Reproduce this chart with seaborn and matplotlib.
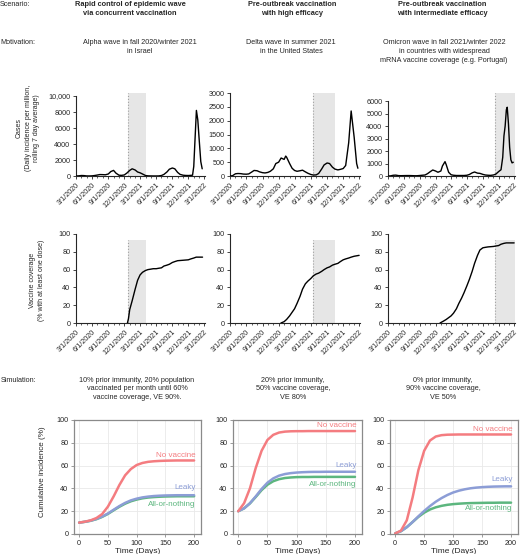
import pandas as pd
import seaborn as sns
import matplotlib.pyplot as plt
import matplotlib.dates as mdates

# ---- Cases: daily incidence per million, rolling 7 day average ----
israel_case_dates = ['2020-03-01', '2020-03-15', '2020-04-01', '2020-04-15', '2020-05-01', '2020-05-15',
                     '2020-06-01', '2020-06-15', '2020-07-01', '2020-07-15', '2020-08-01', '2020-08-15',
                     '2020-09-01', '2020-09-15', '2020-10-01', '2020-10-15', '2020-11-01', '2020-11-15',
                     '2020-12-01', '2020-12-15', '2021-01-01', '2021-01-15', '2021-02-01', '2021-02-15',
                     '2021-03-01', '2021-03-15', '2021-04-01', '2021-04-15', '2021-05-01', '2021-05-15',
                     '2021-06-01', '2021-06-15', '2021-07-01', '2021-07-15', '2021-08-01', '2021-08-15',
                     '2021-09-01', '2021-09-15', '2021-10-01', '2021-10-15', '2021-11-01', '2021-11-15',
                     '2021-12-01', '2021-12-15', '2021-12-25', '2022-01-01', '2022-01-08', '2022-01-16',
                     '2022-01-24', '2022-02-01', '2022-02-10', '2022-02-18']
israel_cases = [0, 20, 60, 50, 10, 5,
                20, 60, 120, 180, 170, 150,
                250, 550, 700, 350, 100, 80,
                130, 350, 700, 900, 750, 500,
                400, 250, 60, 20, 10, 5,
                5, 10, 60, 200, 500, 850,
                1000, 900, 450, 200, 100, 70,
                60, 80, 100, 1200, 4500, 8200,
                7000, 4500, 1800, 900]

us_case_dates = ['2020-03-01', '2020-03-15', '2020-04-01', '2020-04-15', '2020-05-01', '2020-05-15',
                 '2020-06-01', '2020-06-15', '2020-07-01', '2020-07-15', '2020-08-01', '2020-08-15',
                 '2020-09-01', '2020-09-15', '2020-10-01', '2020-10-15', '2020-11-01', '2020-11-15',
                 '2020-12-01', '2020-12-15', '2021-01-01', '2021-01-10', '2021-01-15', '2021-02-01',
                 '2021-02-15', '2021-03-01', '2021-03-15', '2021-04-01', '2021-04-15', '2021-05-01',
                 '2021-05-15', '2021-06-01', '2021-06-15', '2021-07-01', '2021-07-15', '2021-08-01',
                 '2021-08-15', '2021-09-01', '2021-09-15', '2021-10-01', '2021-10-15', '2021-11-01',
                 '2021-11-15', '2021-12-01', '2021-12-15', '2022-01-01', '2022-01-15', '2022-02-01',
                 '2022-02-15', '2022-02-22']
us_cases = [0, 10, 80, 90, 85, 70,
            65, 75, 140, 200, 190, 150,
            120, 110, 130, 170, 260, 450,
            500, 650, 600, 720, 680, 450,
            280, 200, 170, 190, 210, 150,
            100, 55, 35, 40, 90, 250,
            400, 470, 450, 320, 250, 220,
            240, 270, 380, 1200, 2350, 1400,
            450, 280]

portugal_case_dates = ['2020-03-01', '2020-03-15', '2020-04-01', '2020-04-15', '2020-05-01', '2020-05-15',
                       '2020-06-01', '2020-06-15', '2020-07-01', '2020-07-15', '2020-08-01', '2020-08-15',
                       '2020-09-01', '2020-09-15', '2020-10-01', '2020-10-15', '2020-11-01', '2020-11-15',
                       '2020-12-01', '2020-12-15', '2021-01-01', '2021-01-10', '2021-01-25', '2021-02-01',
                       '2021-02-15', '2021-03-01', '2021-03-15', '2021-04-01', '2021-04-15', '2021-05-01',
                       '2021-05-15', '2021-06-01', '2021-06-15', '2021-07-01', '2021-07-15', '2021-08-01',
                       '2021-08-15', '2021-09-01', '2021-09-15', '2021-10-01', '2021-10-15', '2021-11-01',
                       '2021-11-15', '2021-12-01', '2021-12-15', '2021-12-25', '2022-01-01', '2022-01-08',
                       '2022-01-15', '2022-01-20', '2022-01-27', '2022-02-03', '2022-02-10', '2022-02-17',
                       '2022-02-24']
portugal_cases = [0, 10, 60, 70, 30, 25,
                  30, 35, 35, 30, 20, 20,
                  40, 60, 80, 180, 350, 480,
                  400, 300, 400, 800, 1150, 900,
                  300, 100, 60, 40, 40, 40,
                  40, 60, 120, 250, 320, 230,
                  210, 130, 80, 60, 50, 80,
                  150, 350, 500, 1500, 3200, 4000,
                  5300, 5500, 4200, 2300, 1300, 1050,
                  1100]

# ---- Vaccine coverage: % with at least one dose ----
israel_vax_dates = ['2020-12-19', '2020-12-25', '2021-01-01', '2021-01-15', '2021-02-01', '2021-02-15',
                    '2021-03-01', '2021-03-15', '2021-04-01', '2021-04-15', '2021-05-01', '2021-05-15',
                    '2021-06-01', '2021-06-15', '2021-07-01', '2021-07-15', '2021-08-01', '2021-08-15',
                    '2021-09-01', '2021-09-15', '2021-10-01', '2021-11-01', '2021-12-01', '2021-12-15',
                    '2022-01-01', '2022-01-15', '2022-02-01', '2022-02-20']
israel_vax = [0, 5, 15, 25, 38, 48,
              54, 57, 59, 60, 60.5, 61,
              61, 61.5, 62, 64, 65, 66,
              68, 69, 70, 70.5, 71, 72,
              73, 74, 74, 74]

us_vax_dates = ['2020-12-14', '2021-01-01', '2021-01-15', '2021-02-01', '2021-02-15', '2021-03-01',
                '2021-03-15', '2021-04-01', '2021-04-15', '2021-05-01', '2021-05-15', '2021-06-01',
                '2021-06-15', '2021-07-01', '2021-07-15', '2021-08-01', '2021-08-15', '2021-09-01',
                '2021-09-15', '2021-10-01', '2021-10-15', '2021-11-01', '2021-11-15', '2021-12-01',
                '2021-12-15', '2022-01-01', '2022-01-15', '2022-02-01', '2022-02-15', '2022-03-01']
us_vax = [0, 1.5, 4, 8, 12, 16,
          22, 30, 38, 44, 47, 50,
          53, 55, 56, 58, 60, 62,
          63, 65, 66, 67, 69, 71,
          72, 73, 74, 75, 75.5, 76]

portugal_vax_dates = ['2020-12-27', '2021-01-15', '2021-02-01', '2021-02-15', '2021-03-01', '2021-03-15',
                      '2021-04-01', '2021-04-15', '2021-05-01', '2021-05-15', '2021-06-01', '2021-06-15',
                      '2021-07-01', '2021-07-15', '2021-08-01', '2021-08-15', '2021-09-01', '2021-09-15',
                      '2021-10-01', '2021-11-01', '2021-11-15', '2021-12-01', '2021-12-15', '2022-01-01',
                      '2022-01-15', '2022-03-01']
portugal_vax = [0, 2, 4, 6, 8, 11,
                16, 22, 28, 34, 42, 49,
                58, 67, 76, 82, 84.5, 85,
                85.5, 86, 86.5, 87, 88.5, 89.5,
                90, 90]

# ---- Simulations: cumulative incidence (%) ----
sim_days = [0, 10, 20, 30, 40, 50, 60, 70, 80, 90, 100, 110, 120, 130, 140, 150, 160, 170, 180, 190, 200]

sim1_none = [10, 10.8, 12, 14, 17.5, 24, 33, 43, 51.5, 57, 60.5, 62.3, 63.3, 63.8, 64.1, 64.3, 64.4, 64.5, 64.5, 64.5, 64.5]
sim1_leaky = [10, 10.7, 11.7, 13.2, 15.3, 18, 21.3, 24.5, 27.3, 29.5, 31, 32.1, 32.8, 33.3, 33.6, 33.8, 33.9, 34, 34, 34, 34]
sim1_aon = [10, 10.7, 11.6, 13, 15, 17.6, 20.8, 23.9, 26.6, 28.7, 30.2, 31.3, 32, 32.4, 32.7, 32.9, 33, 33.1, 33.1, 33.1, 33.1]

sim2_none = [20, 27, 40, 58, 73, 82.5, 87, 89, 89.8, 90.1, 90.2, 90.2, 90.3, 90.3, 90.3, 90.3, 90.3, 90.3, 90.3, 90.3, 90.3]
sim2_leaky = [20, 22.5, 27, 33, 39.5, 45, 48.8, 51.2, 52.6, 53.4, 53.9, 54.2, 54.4, 54.5, 54.5, 54.6, 54.6, 54.6, 54.6, 54.6, 54.6]
sim2_aon = [20, 22.5, 26.8, 32.5, 38.5, 43.2, 46.3, 48.1, 49.1, 49.6, 49.9, 50, 50, 50.1, 50.1, 50.1, 50.1, 50.1, 50.1, 50.1, 50.1]

sim3_none = [0.5, 3, 12, 32, 56, 73, 82, 85.5, 86.7, 87.1, 87.2, 87.3, 87.3, 87.3, 87.3, 87.3, 87.3, 87.3, 87.3, 87.3, 87.3]
sim3_leaky = [0.5, 2.5, 6, 10.5, 15.5, 20.2, 24.5, 28.3, 31.5, 34.2, 36.4, 38, 39.2, 40.1, 40.7, 41.1, 41.4, 41.6, 41.7, 41.8, 41.8]
sim3_aon = [0.5, 2.5, 6, 10.5, 15, 18.7, 21.5, 23.4, 24.7, 25.6, 26.2, 26.6, 26.9, 27.1, 27.2, 27.3, 27.4, 27.4, 27.5, 27.5, 27.5]

# Axis ticks / labels
date_ticks = ['2020-03-01', '2020-06-01', '2020-09-01', '2020-12-01', '2021-03-01',
              '2021-06-01', '2021-09-01', '2021-12-01', '2022-03-01']
date_tick_labels = ['3/1/2020', '6/1/2020', '9/1/2020', '12/1/2020', '3/1/2021',
                    '6/1/2021', '9/1/2021', '12/1/2021', '3/1/2022']

RED = '#f47c80'
BLUE = '#8c9dd6'
GREEN = '#5cb67e'
W, H = 520, 554

sns.set_style('ticks')
plt.rcParams['font.family'] = ['Liberation Sans', 'DejaVu Sans']
plt.rcParams['font.size'] = 5.2
plt.rcParams['axes.linewidth'] = 0.8

fig = plt.figure(figsize=(W / 100, H / 100), dpi=100)


def px_axes(left, top, right, bottom):
    return fig.add_axes([left / W, 1 - bottom / H, (right - left) / W, (bottom - top) / H])


def px_text(x, y, s, **kw):
    fig.text(x / W, 1 - y / H, s, **kw)


def date_panel(ax, dates, values, band, yticks, yticklabels, ytop, band_top=1.0):
    start = pd.Timestamp(band[0])
    end = pd.Timestamp(band[1])
    ax.axvspan(start, end, ymax=band_top, color='#e6e6e6', lw=0, zorder=0)
    ax.axvline(start, ymax=band_top, color='#a0a0a0', ls=':', lw=0.8, zorder=1)
    sns.lineplot(x=pd.to_datetime(dates), y=values, ax=ax, color='black', lw=1.0, zorder=3)
    ax.set_xlim(pd.Timestamp('2020-03-01'), pd.Timestamp('2022-03-06'))
    ax.set_ylim(0, ytop)
    ax.set_xticks(pd.to_datetime(date_ticks))
    ax.set_xticklabels(date_tick_labels, rotation=45, ha='right', rotation_mode='anchor')
    ax.xaxis.set_minor_locator(mdates.MonthLocator())
    ax.set_yticks(yticks)
    ax.set_yticklabels(yticklabels)
    sns.despine(ax=ax)
    ax.spines['left'].set_bounds(0, yticks[-1])
    ax.tick_params(which='major', length=2.5, width=0.6, pad=1.5, labelsize=5.2)
    ax.tick_params(which='minor', length=1.3, width=0.5)
    ax.set_xlabel('')
    ax.set_ylabel('')


def sim_panel(ax, none, leaky, aon, lab_none, lab_leaky, lab_aon):
    sns.lineplot(x=sim_days, y=aon, ax=ax, color=GREEN, lw=1.8)
    sns.lineplot(x=sim_days, y=leaky, ax=ax, color=BLUE, lw=1.8)
    sns.lineplot(x=sim_days, y=none, ax=ax, color=RED, lw=1.8)
    ax.set_xlim(-9, 212)
    ax.set_ylim(0, 100)
    ax.set_xticks([0, 50, 100, 150, 200])
    ax.set_yticks([0, 20, 40, 60, 80, 100])
    ax.grid(True, color='#e9e9e9', lw=0.6)
    ax.set_axisbelow(True)
    for sp in ax.spines.values():
        sp.set_visible(True)
        sp.set_color('#8a8a8a')
        sp.set_linewidth(0.9)
    ax.tick_params(length=2.5, width=0.6, pad=1.5, labelsize=5.2, color='#8a8a8a')
    ax.set_xlabel('Time (Days)', fontsize=6, labelpad=1)
    ax.set_ylabel('')
    ax.text(203, lab_none, 'No vaccine', color=RED, fontsize=5.8, ha='right', va='center')
    ax.text(203, lab_leaky, 'Leaky', color=BLUE, fontsize=5.8, ha='right', va='center')
    ax.text(203, lab_aon, 'All-or-nothing', color=GREEN, fontsize=5.8, ha='right', va='center')


# Header text rows
px_text(0, 1, 'Scenario:', va='top', fontsize=5.2)
px_text(130, 1, 'Rapid control of epidemic wave\nvia concurrent vaccination', ha='center', va='top',
        fontsize=5.3, fontweight='bold', linespacing=1.35)
px_text(292, 1, 'Pre-outbreak vaccination\nwith high efficacy', ha='center', va='top',
        fontsize=5.3, fontweight='bold', linespacing=1.35)
px_text(442, 1, 'Pre-outbreak vaccination\nwith intermediate efficacy', ha='center', va='top',
        fontsize=5.3, fontweight='bold', linespacing=1.35)

px_text(0, 39.5, 'Motivation:', va='top', fontsize=5.2)
px_text(140, 39.5, 'Alpha wave in fall 2020/winter 2021\nin Israel', ha='center', va='top', linespacing=1.35)
px_text(291, 39.5, 'Delta wave in summer 2021\nin the United States', ha='center', va='top', linespacing=1.35)
px_text(444, 39.5, 'Omicron wave in fall 2021/winter 2022\nin countries with widespread\n'
        'mRNA vaccine coverage (e.g. Portugal)', ha='center', va='top', linespacing=1.35)

px_text(1, 376.5, 'Simulation:', va='top', fontsize=5.2)
px_text(137, 376.5, '10% prior immunity, 20% population\nvaccinated per month until 60%\n'
        'vaccine coverage, VE 90%.', ha='center', va='top', linespacing=1.35)
px_text(293, 376.5, '20% prior immunity,\n50% vaccine coverage,\nVE 80%', ha='center', va='top', linespacing=1.35)
px_text(443, 376.5, '0% prior immunity,\n90% vaccine coverage,\nVE 50%', ha='center', va='top', linespacing=1.35)

# Y axis titles
px_text(28, 128, 'Cases\n(Daily incidence per million,\nrolling 7 day average)', rotation=90,
        ha='center', va='center', multialignment='center', fontsize=5.0, linespacing=1.3)
px_text(37, 280, 'Vaccine coverage\n(% with at least one dose)', rotation=90,
        ha='center', va='center', multialignment='center', fontsize=5.0, linespacing=1.3)
px_text(42, 472, 'Cumulative incidence (%)', rotation=90, ha='center', va='center', fontsize=5.8)

# Row 1: cases
ax = px_axes(76, 93, 205, 176)
date_panel(ax, israel_case_dates, israel_cases, ('2020-12-20', '2021-04-05'),
           [0, 2000, 4000, 6000, 8000, 10000], ['0', '2000', '4000', '6000', '8000', '10,000'], 10375)
ax = px_axes(230, 93, 360, 176)
date_panel(ax, us_case_dates, us_cases, ('2021-06-15', '2021-10-15'),
           [0, 500, 1000, 1500, 2000, 2500, 3000], ['0', '500', '1000', '1500', '2000', '2500', '3000'], 3000)
ax = px_axes(388, 93, 515, 176)
date_panel(ax, portugal_case_dates, portugal_cases, ('2021-11-13', '2022-03-06'),
           [0, 1000, 2000, 3000, 4000, 5000, 6000], ['0', '1000', '2000', '3000', '4000', '5000', '6000'], 6640)

# Row 2: vaccine coverage
vax_ticks = [0, 20, 40, 60, 80, 100]
vax_labels = ['0', '20', '40', '60', '80', '100']
ax = px_axes(76, 234, 205, 323)
date_panel(ax, israel_vax_dates, israel_vax, ('2020-12-20', '2021-04-05'), vax_ticks, vax_labels, 100, 0.93)
ax = px_axes(230, 234, 360, 323)
date_panel(ax, us_vax_dates, us_vax, ('2021-06-15', '2021-10-15'), vax_ticks, vax_labels, 100, 0.93)
ax = px_axes(388, 234, 515, 323)
date_panel(ax, portugal_vax_dates, portugal_vax, ('2021-11-13', '2022-03-06'), vax_ticks, vax_labels, 100, 0.93)

# Row 3: simulations
ax = px_axes(74, 420, 201, 534)
sim_panel(ax, sim1_none, sim1_leaky, sim1_aon, 69, 41, 26)
ax = px_axes(233, 420, 362, 534)
sim_panel(ax, sim2_none, sim2_leaky, sim2_aon, 95, 60.5, 43)
ax = px_axes(390, 420, 518, 534)
sim_panel(ax, sim3_none, sim3_leaky, sim3_aon, 92, 48, 22)

fig.savefig('out.png', dpi=100)
